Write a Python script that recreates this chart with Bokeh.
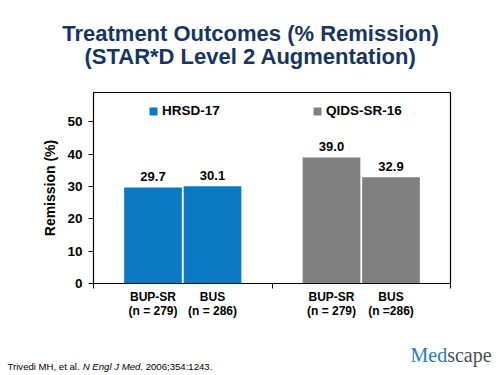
from bokeh.plotting import figure
from bokeh.models import Range1d, FixedTicker, Legend, LegendItem, ColumnDataSource
from bokeh.core.properties import value
from bokeh.embed import file_html
from bokeh.resources import INLINE

# ---- data ----
groups = ["HRSD-17", "QIDS-SR-16"]
treatments = ["BUP-SR", "BUS"]
n_labels = [["(n = 279)", "(n = 286)"], ["(n = 279)", "(n =286)"]]
hrsd_values = [29.7, 30.1]
qids_values = [39.0, 32.9]
group_values = [hrsd_values, qids_values]
group_colors = ["#0a78c2", "#808080"]
y_ticks = [0, 10, 20, 30, 40, 50]
title_lines = ["Treatment Outcomes (% Remission)", "(STAR*D Level 2 Augmentation)"]
ref_parts = ["Trivedi MH, et al. ", "N Engl J Med", ". 2006;354:1243."]
ref_styles = ["normal", "italic", "normal"]
logo_parts = ["Med", "scape"]
logo_colors = ["#2a78c0", "#4a4f57"]

FONT = "Liberation Sans"
W, H = 500, 375
FL, FR, FT, FB = 93, 450, 92, 283   # frame edges in page pixels
slot = len(treatments) + 1  # units per group

p = figure(width=W, height=H, output_backend="svg", toolbar_location=None,
           x_range=Range1d(0, slot * len(groups)), y_range=Range1d(0, 59.1),
           min_border_left=FL, min_border_right=W - FR,
           min_border_top=FT, min_border_bottom=H - FB)
p.extra_x_ranges = {"px": Range1d(FL, FR)}
p.extra_y_ranges = {"px": Range1d(FB, FT)}
p.background_fill_color = "white"
p.border_fill_color = "white"
p.outline_line_color = "black"
p.outline_line_width = 1.2
p.xgrid.visible = False
p.ygrid.visible = False

renderers = []
tick_pos = []
overrides = {}
for g, (grp, vals, col) in enumerate(zip(groups, group_values, group_colors)):
    xs = [g * slot + 1 + i for i in range(len(treatments))]
    src = ColumnDataSource(dict(x=xs, top=vals, lab=["%.1f" % v for v in vals]))
    r = p.vbar(x="x", top="top", width=0.97, source=src, fill_color=col, line_color=None)
    renderers.append(r)
    p.text(x="x", y="top", text="lab", source=src, text_align="center",
           text_baseline="alphabetic", y_offset=-11,
           text_font=value(FONT), text_font_style=value("bold"),
           text_font_size=value("13px"), text_color="black")
    for i, x in enumerate(xs):
        tick_pos.append(x)
        overrides[x] = treatments[i] + "\n" + n_labels[g][i]

# x axis
p.xaxis.ticker = FixedTicker(ticks=tick_pos,
                             minor_ticks=[g * slot for g in range(len(groups) + 1)])
p.xaxis.major_label_overrides = overrides
p.xaxis.major_tick_line_color = None
p.xaxis.major_tick_out = 0
p.xaxis.major_tick_in = 0
p.xaxis.minor_tick_line_color = "black"
p.xaxis.minor_tick_out = 5
p.xaxis.minor_tick_in = 0
p.xaxis.major_label_standoff = 1
p.xaxis.major_label_text_font = FONT
p.xaxis.major_label_text_font_style = "bold"
p.xaxis.major_label_text_font_size = "12px"
p.xaxis.major_label_text_line_height = 1.05
p.xaxis.major_label_text_color = "black"
p.xaxis.axis_line_color = "black"

# y axis
p.yaxis.ticker = FixedTicker(ticks=y_ticks)
p.yaxis.minor_tick_line_color = None
p.yaxis.major_tick_out = 5
p.yaxis.major_tick_in = 0
p.yaxis.major_tick_line_color = "black"
p.yaxis.axis_line_color = "black"
p.yaxis.major_label_text_font = FONT
p.yaxis.major_label_text_font_style = "bold"
p.yaxis.major_label_text_font_size = "13.5px"
p.yaxis.major_label_text_color = "black"
p.yaxis.major_label_standoff = 6
p.yaxis.axis_label = "Remission (%)"
p.yaxis.axis_label_text_font = FONT
p.yaxis.axis_label_text_font_style = "bold"
p.yaxis.axis_label_text_font_size = "14px"
p.yaxis.axis_label_text_color = "black"
p.yaxis.axis_label_standoff = 6

# legends
leg_x = [55, 219]
for grp, r, lx in zip(groups, renderers, leg_x):
    leg = Legend(items=[LegendItem(label=grp, renderers=[r])], location=(lx, 165),
                 padding=0, margin=0, border_line_color=None, background_fill_alpha=0,
                 glyph_width=10, glyph_height=10, label_height=10, label_standoff=4,
                 label_text_font=FONT, label_text_font_style="bold",
                 label_text_font_size="13.5px", label_text_color="black")
    p.add_layout(leg)

# ---- title (page-pixel coordinates, drawn on overlay level so it is not clipped) ----
p.text(x=[W / 2] * len(title_lines), y=[33 + 23.3 * k for k in range(len(title_lines))],
       text=title_lines, text_align="center", text_baseline="alphabetic",
       text_font=value(FONT), text_font_style=value("bold"),
       text_font_size=value("22px"), text_color="#17365f",
       x_range_name="px", y_range_name="px", level="overlay")

# ---- footer ----
fs = 9.6
x0 = 7
offs = [x0, x0 + 7.835 * fs, x0 + (7.835 + 6.002) * fs]
for part, ox, st in zip(ref_parts, offs, ref_styles):
    p.text(x=[ox], y=[365.5], text=[part], text_align="left",
           text_baseline="alphabetic", text_font=value(FONT),
           text_font_style=value(st), text_font_size=value("%.1fpx" % fs),
           text_color="black", x_range_name="px", y_range_name="px", level="overlay")
logo_x = [410, 410 + 36.7]
for part, lx, lc in zip(logo_parts, logo_x, logo_colors):
    p.text(x=[lx], y=[354], text=[part], text_align="left",
           text_baseline="alphabetic", text_font=value("Liberation Serif"),
           text_font_size=value("20px"), text_color=lc,
           x_range_name="px", y_range_name="px", level="overlay")

open("out.html", "w").write(file_html(p, INLINE))
